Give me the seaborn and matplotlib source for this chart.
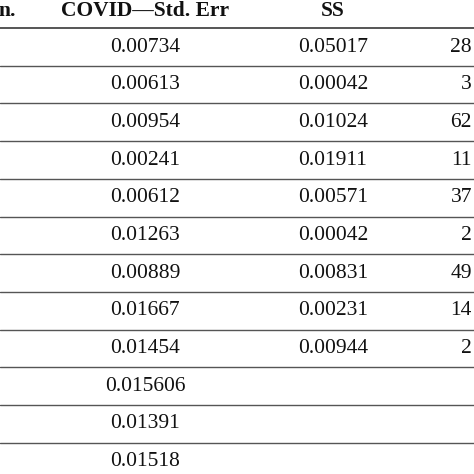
import matplotlib
matplotlib.use("Agg")
import matplotlib.pyplot as plt
import seaborn as sns

headers = ["COVID\u2014Std. Err", "SS"]
covid_std_err = ["0.00734", "0.00613", "0.00954", "0.00241", "0.00612", "0.01263",
                 "0.00889", "0.01667", "0.01454", "0.015606", "0.01391", "0.01518"]
ss = ["0.05017", "0.00042", "0.01024", "0.01911", "0.00571", "0.00042",
      "0.00831", "0.00231", "0.00944", "", "", ""]
# right-hand column is cut off at the image edge; only its first digits show
right_col = ["28", "3", "62", "11", "37", "2", "49", "14", "2", "", "", ""]

sns.set_theme(style="white")
plt.rcParams['font.family'] = ['Liberation Serif', 'DejaVu Serif']

fig = plt.figure(figsize=(4.74, 4.74), dpi=100)
ax = fig.add_axes([0, 0, 1, 1])
ax.set_xlim(0, 474)
ax.set_ylim(474, 0)
ax.axis("off")

fs = 15.5
ink = "#111111"
ax.text(16, 11, "n.", ha="right", va="center", fontsize=fs, fontweight="bold", color=ink)
ax.text(145, 11, headers[0], ha="center", va="center", fontsize=fs, fontweight="bold", color=ink)
ax.text(333, 11, headers[1], ha="center", va="center", fontsize=fs, fontweight="bold", color=ink)

line_y = [28 + 37.7 * i for i in range(len(covid_std_err))]
for i, y in enumerate(line_y):
    ax.axhline(y, color="#555555", lw=1.4 if i == 0 else 1.0)
    yc = y + 19
    ax.text(145, yc, covid_std_err[i], ha="center", va="center", fontsize=fs, color=ink)
    if ss[i]:
        ax.text(333, yc, ss[i], ha="center", va="center", fontsize=fs, color=ink)
    if right_col[i]:
        ax.text(472, yc, right_col[i], ha="right", va="center", fontsize=fs, color=ink)

fig.savefig("out.png", dpi=100)
